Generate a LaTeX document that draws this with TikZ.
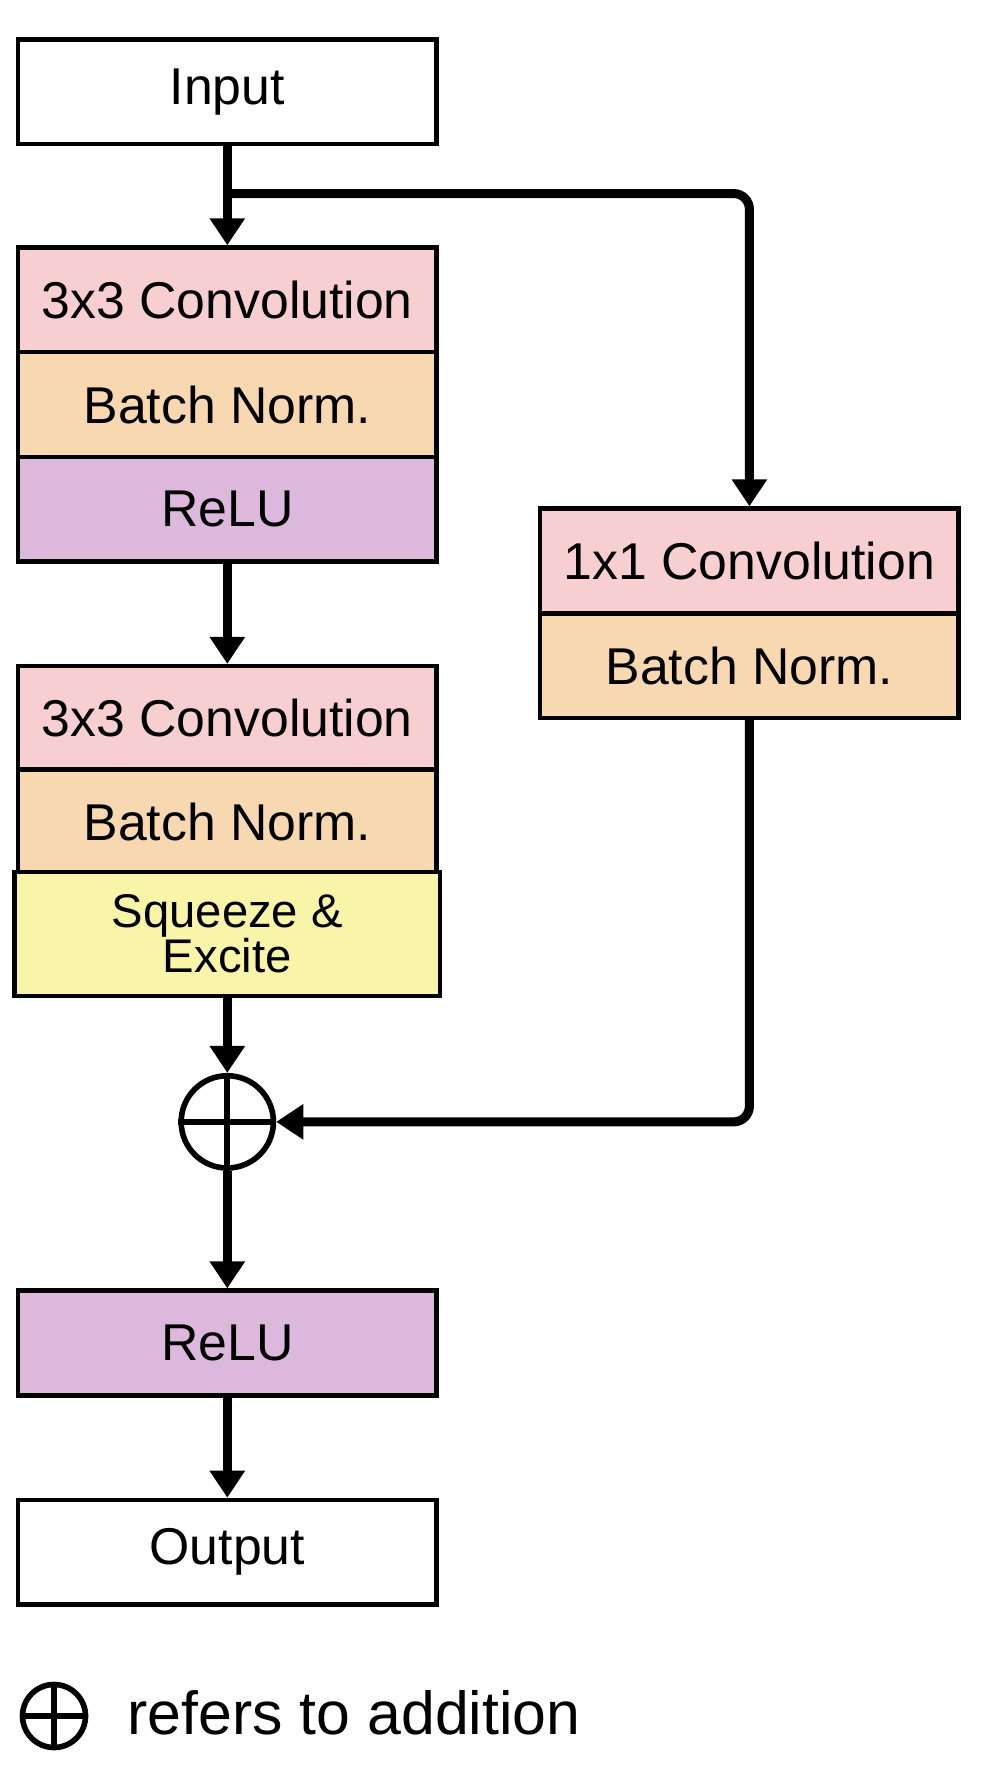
\documentclass[tikz,border=0pt]{standalone}
\usepackage{fontspec}
\setmainfont{Liberation Sans}
\usetikzlibrary{arrows.meta}
\definecolor{cpink}{HTML}{F8CFD0}
\definecolor{corange}{HTML}{F8D8B0}
\definecolor{cpurple}{HTML}{DDB8DD}
\definecolor{cyellow}{HTML}{F8F4A8}
\begin{document}
\begin{tikzpicture}[x=1pt,y=-1pt,
  blk/.style={draw=black,line width=4pt,minimum width=372pt,minimum height=93pt,inner sep=0pt,font=\fontsize{46}{44}\selectfont,align=center,anchor=north},
  arr/.style={line width=8pt,-{Triangle[length=24pt,width=30pt]},rounded corners=14pt}]
\useasboundingbox (0,0) rectangle (880,1581);
\node[blk,fill=white] (in) at (202,33) {Input};
\node[blk,fill=cpink] (c1) at (202,218) {3x3 Convolution};
\node[blk,fill=corange] (b1) at (202,311) {Batch Norm.};
\node[blk,fill=cpurple] (r1) at (202,404) {ReLU};
\node[blk,fill=cpink] (c2) at (202,590) {3x3 Convolution};
\node[blk,fill=corange] (b2) at (202,682) {Batch Norm.};
\node[blk,fill=cyellow,minimum width=378pt,minimum height=110pt,font=\fontsize{42}{40}\selectfont] (se) at (202,773) {Squeeze \&\\Excite};
\node[blk,fill=cpink] (c3) at (666,450) {1x1 Convolution};
\node[blk,fill=corange] (b3) at (666,543) {Batch Norm.};
\node[draw,circle,line width=5pt,minimum size=82pt,inner sep=0pt] (add) at (202,997) {};
\draw[line width=5pt] (add.north) -- (add.south) (add.west) -- (add.east);
\node[blk,fill=cpurple] (r2) at (202,1145) {ReLU};
\node[blk,fill=white] (out) at (202,1331) {Output};
\node[draw,circle,line width=5pt,minimum size=56pt,inner sep=0pt] (lg) at (48,1525) {};
\draw[line width=5pt] (lg.north) -- (lg.south) (lg.west) -- (lg.east);
\node[anchor=west,font=\fontsize{54}{56}\selectfont] (lt) at (110,1522) {refers to addition};
\coordinate (br) at (202,172);
\draw[arr] (in.south) -- (c1.north);
\draw[arr] (br) -- (666,172) -- (c3.north);
\draw[arr] (r1.south) -- (c2.north);
\draw[arr] (se.south) -- (add.north);
\draw[arr] (b3.south) -- (666,997) -- (add.east);
\draw[arr] (add.south) -- (r2.north);
\draw[arr] (r2.south) -- (out.north);
\end{tikzpicture}
\end{document}
